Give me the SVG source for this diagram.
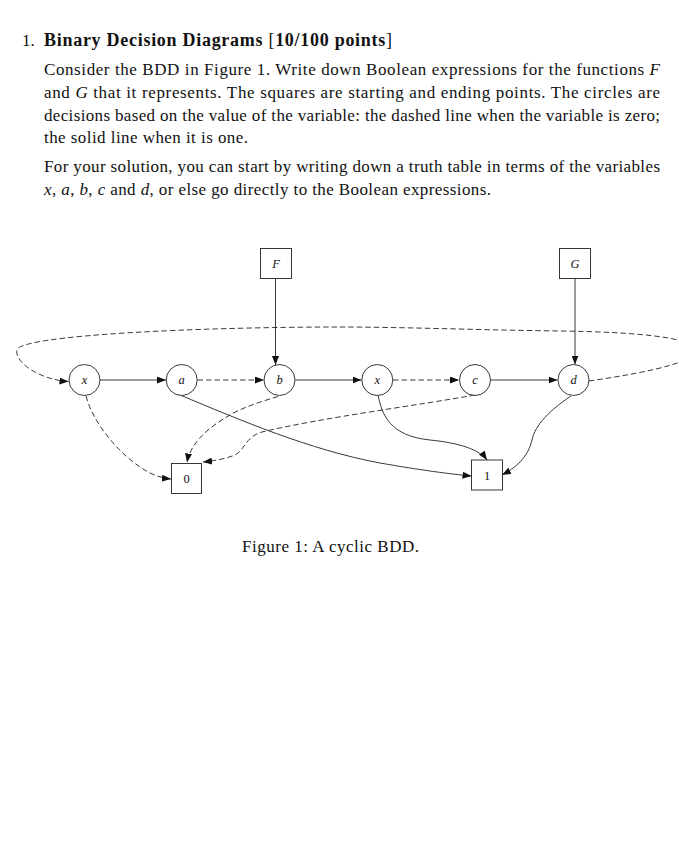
<svg xmlns="http://www.w3.org/2000/svg" width="679" height="861" viewBox="0 0 679 861">
<defs>
<style>
.t{font-family:"Liberation Serif","DejaVu Serif",serif;font-size:17px;fill:#111}
.h{font-size:18px}
.b{font-weight:bold}
.i{font-style:italic}
.nl{font-family:"Liberation Serif","DejaVu Serif",serif;font-size:12.5px;fill:#111;text-anchor:middle}
.nd{fill:#fff;stroke:#222;stroke-width:0.9}
.e{fill:none;stroke:#222;stroke-width:0.9}
.d{stroke-dasharray:5.5,3}
</style>
<marker id="ah" markerUnits="userSpaceOnUse" markerWidth="9" markerHeight="7" refX="9" refY="3.5" orient="auto">
<path d="M0,0 L9,3.5 L0,7 z" fill="#111" stroke="none"/>
</marker>
</defs>
<rect width="679" height="861" fill="#fff"/>

<g id="text">
<text class="t" x="22" y="46">1.</text>
<text class="t h" x="44" y="46" textLength="348" lengthAdjust="spacing"><tspan class="b">Binary Decision Diagrams </tspan>[<tspan class="b">10/100 points</tspan>]</text>
<text class="t" x="44" y="75" textLength="616" lengthAdjust="spacing">Consider the BDD in Figure 1. Write down Boolean expressions for the functions <tspan class="i">F</tspan></text>
<text class="t" x="44" y="98" textLength="616" lengthAdjust="spacing">and <tspan class="i">G</tspan> that it represents. The squares are starting and ending points. The circles are</text>
<text class="t" x="44" y="121" textLength="616" lengthAdjust="spacing">decisions based on the value of the variable: the dashed line when the variable is zero;</text>
<text class="t" x="44" y="143" textLength="204" lengthAdjust="spacing">the solid line when it is one.</text>
<text class="t" x="44" y="172" textLength="616" lengthAdjust="spacing">For your solution, you can start by writing down a truth table in terms of the variables</text>
<text class="t" x="44" y="195" textLength="447" lengthAdjust="spacing"><tspan class="i">x</tspan>, <tspan class="i">a</tspan>, <tspan class="i">b</tspan>, <tspan class="i">c</tspan> and <tspan class="i">d</tspan>, or else go directly to the Boolean expressions.</text>
<text class="t" x="242" y="552" textLength="177" lengthAdjust="spacing">Figure 1: A cyclic BDD.</text>
</g>

<g id="connectors">
<path class="e" d="M275.5,278.5 L275.5,365" marker-end="url(#ah)"/>
<path class="e" d="M575,278.5 L575,364.5" marker-end="url(#ah)"/>
<path class="e" d="M100,380 L166,380" marker-end="url(#ah)"/>
<path class="e d" d="M197.5,380 L264,380" marker-end="url(#ah)"/>
<path class="e" d="M295.5,380 L361.5,380" marker-end="url(#ah)"/>
<path class="e d" d="M393,380 L459,380" marker-end="url(#ah)"/>
<path class="e" d="M491,380 L557.5,380" marker-end="url(#ah)"/>
<path class="e d" d="M589,381 C630,375 690,365 695,352 C700,338 640,332 560,331 C480,330 400,327 340,327 C200,327 20,335 17,350 C14,362 40,380 68.5,381.5" marker-end="url(#ah)"/>
<path class="e d" d="M86,396 C92,420 115,450 140,467 C150,474 160,478 171,479" marker-end="url(#ah)"/>
<path class="e d" d="M278,396.5 C260,402 240,408 225,418 C205,430 190,445 187,462.5" marker-end="url(#ah)"/>
<path class="e d" d="M475,395 C420,405 320,418 262,432 C245,437 245,450 235,455 C225,459 213,461 203,462" marker-end="url(#ah)"/>
<path class="e" d="M180,395 C240,420 310,450 380,463 C420,470 450,474 471.5,476" marker-end="url(#ah)"/>
<path class="e" d="M378,395 C382,415 390,436 430,440 C460,443 480,450 487,460" marker-end="url(#ah)"/>
<path class="e" d="M571,396 C550,410 535,425 532,440 C528,458 515,468 502,475" marker-end="url(#ah)"/>
</g>

<g id="node-F"><rect class="nd" x="260.5" y="248.5" width="31" height="30"/><text class="nl i" x="276" y="268">F</text></g>
<g id="node-G"><rect class="nd" x="559.5" y="248.5" width="31" height="30"/><text class="nl i" x="575" y="268">G</text></g>
<g id="node-x1"><circle class="nd" cx="84.5" cy="380" r="15.5"/><text class="nl i" x="84.5" y="384">x</text></g>
<g id="node-a"><circle class="nd" cx="181.7" cy="380" r="15.5"/><text class="nl i" x="181.7" y="384">a</text></g>
<g id="node-b"><circle class="nd" cx="279.5" cy="380" r="15.5"/><text class="nl i" x="279.5" y="384">b</text></g>
<g id="node-x2"><circle class="nd" cx="377.3" cy="380" r="15.5"/><text class="nl i" x="377.3" y="384">x</text></g>
<g id="node-c"><circle class="nd" cx="475" cy="380" r="15.5"/><text class="nl i" x="475" y="384">c</text></g>
<g id="node-d"><circle class="nd" cx="573.5" cy="380" r="15.5"/><text class="nl i" x="573.5" y="384">d</text></g>
<g id="node-0"><rect class="nd" x="171.5" y="463.5" width="30" height="30"/><text class="nl" x="186.5" y="483">0</text></g>
<g id="node-1"><rect class="nd" x="471.5" y="460" width="31" height="30"/><text class="nl" x="487" y="479.5">1</text></g>
</svg>
